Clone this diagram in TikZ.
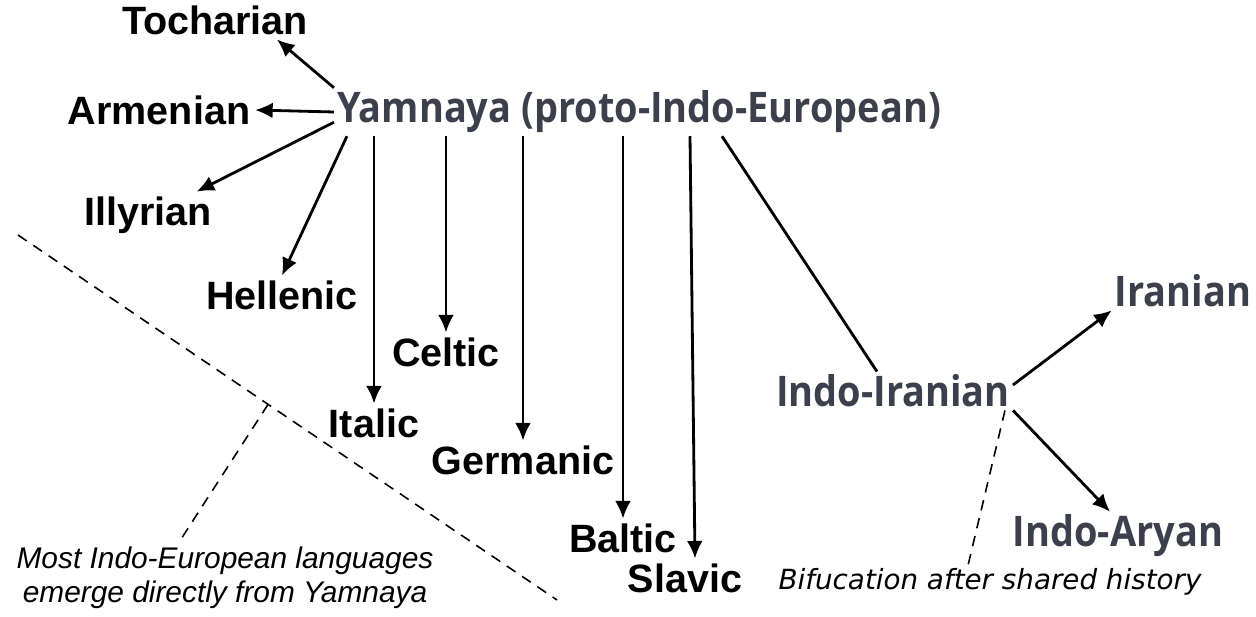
\documentclass[tikz,border=0pt]{standalone}
\usepackage{fontspec}
\setmainfont{Liberation Sans}
\newfontfamily\slatefont[FakeStretch=0.9]{Open Sans}
\newfontfamily\notefont{DejaVu Sans}
\usetikzlibrary{arrows.meta,calc}
\definecolor{slate}{HTML}{3B404C}
\tikzset{
  lang/.style={font=\bfseries\fontsize{22.5}{26}\selectfont, inner sep=2pt},
  branch/.style={font=\slatefont\bfseries\fontsize{24}{28}\selectfont, text=slate, inner sep=1pt},
  remark/.style={font=\itshape\fontsize{17}{19.5}\selectfont, align=center, inner sep=1pt},
  split/.style={dash pattern=on 6pt off 4.5pt, line width=0.9pt}
}

\begin{document}
\begin{tikzpicture}[x=0.02cm, y=-0.02cm, >={Latex[length=10pt,width=9pt]}, line width=1.6pt]
  \useasboundingbox (0,0) rectangle (1256,617);
  \path (639,112) node[branch] (yamnaya) {Yamnaya (proto-Indo-European)}
        (215,20) node[lang] (tocharian) {Tocharian}
        (159,110) node[lang] (armenian) {Armenian}
        (148,215) node[lang] (illyrian) {Illyrian}
        (282,295) node[lang] (hellenic) {Hellenic}
        (446,352) node[lang] (celtic) {Celtic}
        (374,423) node[lang] (italic) {Italic}
        (523,460) node[lang] (germanic) {Germanic}
        (623,538) node[lang] (baltic) {Baltic}
        (685,578) node[lang] (slavic) {Slavic}
        (893,391) node[branch] (indoiranian) {Indo-Iranian}
        (1183,291) node[branch] (iranian) {Iranian}
        (1118,536) node[branch] (indoaryan) {Indo-Aryan}
        (225,578) node[remark] (most) {Most Indo-European languages\\emerge directly from Yamnaya}
        (990,582) node[remark, font=\notefont\itshape\fontsize{15.8}{18}\selectfont] (bifurcation) {Bifucation after shared history};
  \coordinate (divtop) at (18,235);
  \coordinate (divbottom) at (557,600);

  \draw [->] (yamnaya.north west) to ($(tocharian.south east)+(-36,0)$);
  \draw [->] (yamnaya.west) to (armenian.east);
  \draw [->] ($(yamnaya.south west)+(0,-14)$) to ($(illyrian.north east)+(-20,0)$);
  \draw [->] ($(yamnaya.south west)+(13,0)$) to (hellenic.north);
  \draw [->] (italic |- yamnaya.south) to (italic.north);
  \draw [->] (celtic |- yamnaya.south) to (celtic.north);
  \draw [->] (germanic |- yamnaya.south) to (germanic.north);
  \draw [->] (baltic |- yamnaya.south) to (baltic.north);
  \draw [->] ($(yamnaya.south)+(51,0)$) to ($(slavic.north)+(10,0)$);
  \draw ($(yamnaya.south)+(83,0)$) to ($(indoiranian.north)+(-16,0)$);
  \draw [->] ($(indoiranian.east)+(0,-6)$) to (iranian.south west);
  \draw [->] (indoiranian.south east) to ($(indoaryan.north)+(-8,0)$);

  \draw [split] (divtop) -- (divbottom);
  \draw [split] ($(divtop)!0.464!(divbottom)$) -- ($(most.north)+(-47,0)$);
  \draw [split] ($(indoiranian.south east)+(-8,0)$) -- ($(bifurcation.north)+(-22,0)$);
\end{tikzpicture}
\end{document}
